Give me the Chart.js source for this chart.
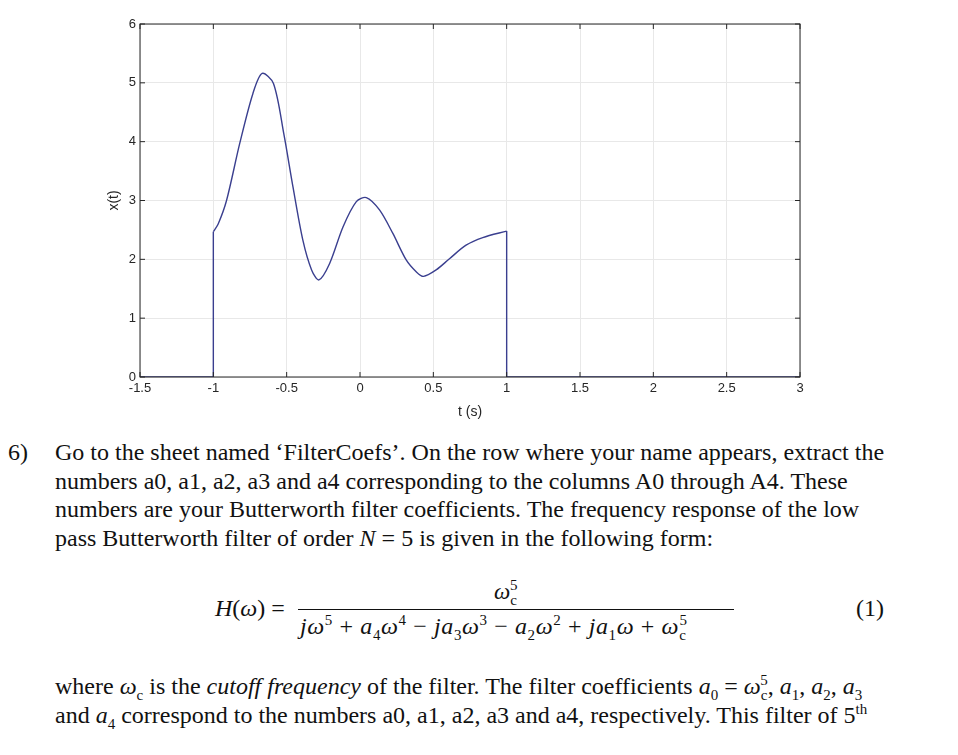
<!DOCTYPE html>
<html><head><meta charset="utf-8">
<script src="https://cdn.jsdelivr.net/npm/chart.js@4/dist/chart.umd.min.js"></script>
<style>
body{margin:0;background:#fff;width:958px;height:755px;overflow:hidden;position:relative}
#wrap{position:absolute;left:0;top:0;width:958px;height:425px}
.t{position:absolute;font-family:"Liberation Serif",serif;font-size:24px;color:#111;line-height:28.5px;white-space:nowrap}
i{font-style:italic}
sub,sup{line-height:0;font-size:15px}
</style></head><body>
<div id="wrap"><canvas id="c" width="958" height="425"></canvas></div>
<div class="t" style="left:8px;top:438px">6)</div>
<div class="t" style="left:55px;top:438px">Go to the sheet named ‘FilterCoefs’. On the row where your name appears, extract the<br>numbers a0, a1, a2, a3 and a4 corresponding to the columns A0 through A4. These<br>numbers are your Butterworth filter coefficients. The frequency response of the low<br>pass Butterworth filter of order <i>N</i> = 5 is given in the following form:</div>
<div class="t" style="left:215px;top:594px"><i>H</i>(<i>ω</i>) =</div>
<div class="t" style="left:494px;top:578px;font-size:23px"><i>ω</i><sub>c</sub><sup style="margin-left:-7px">5</sup></div>
<div style="position:absolute;left:298px;top:609px;width:436px;border-top:1.3px solid #111"></div>
<div class="t" style="left:300px;top:612px;font-size:24px;letter-spacing:0.6px"><i>jω</i><sup>5</sup> + <i>a</i><sub>4</sub><i>ω</i><sup>4</sup> − <i>ja</i><sub>3</sub><i>ω</i><sup>3</sup> − <i>a</i><sub>2</sub><i>ω</i><sup>2</sup> + <i>ja</i><sub>1</sub><i>ω</i> + <i>ω</i><sub>c</sub><sup style="margin-left:-7px">5</sup></div>
<div class="t" style="left:856px;top:594px">(1)</div>
<div class="t" style="left:55px;top:672px">where <i>ω</i><sub>c</sub> is the <i>cutoff frequency</i> of the filter. The filter coefficients <i>a</i><sub>0</sub> = <i>ω</i><sub>c</sub><sup style="margin-left:-7px">5</sup>, <i>a</i><sub>1</sub>, <i>a</i><sub>2</sub>, <i>a</i><sub>3</sub><br>and <i>a</i><sub>4</sub> correspond to the numbers a0, a1, a2, a3 and a4, respectively. This filter of 5<sup>th</sup></div>
<script>
const tVals=[-1,-0.967,-0.91,-0.82,-0.73,-0.667,-0.59,-0.52,-0.457,-0.39,-0.33,-0.28,-0.207,-0.116,-0.025,0.043,0.133,0.224,0.315,0.383,0.433,0.519,0.61,0.723,0.837,1];
const xVals=[2.47,2.6,3.0,3.97,4.82,5.16,4.99,4.14,3.23,2.33,1.82,1.65,1.93,2.55,2.98,3.05,2.84,2.44,1.99,1.79,1.71,1.82,2.01,2.24,2.37,2.48];
const edgeT=[-1.5,-1,-1,null,1,1,3];
const edgeX=[0,0,2.47,null,2.48,0,0];
const xTicks=[-1.5,-1,-0.5,0,0.5,1,1.5,2,2.5,3];
const yTicks=[0,1,2,3,4,5,6];
const box={id:'box',afterDraw(c){const a=c.chartArea,x=c.ctx;x.save();x.strokeStyle='#262626';x.lineWidth=1;x.strokeRect(a.left,a.top,a.right-a.left,a.bottom-a.top);
x.beginPath();for(const v of xTicks){const p=c.scales.x.getPixelForValue(v);x.moveTo(p,a.bottom);x.lineTo(p,a.bottom-5);x.moveTo(p,a.top);x.lineTo(p,a.top+5);}
for(const v of yTicks){const p=c.scales.y.getPixelForValue(v);x.moveTo(a.left,p);x.lineTo(a.left+5,p);x.moveTo(a.right,p);x.lineTo(a.right-5,p);}x.stroke();x.restore();}};
const col='#3a3f8f';
new Chart(document.getElementById('c'),{type:'line',
data:{datasets:[
{data:tVals.map((t,i)=>({x:t,y:xVals[i]})),borderColor:col,borderWidth:1.4,pointRadius:0,tension:0.3},
{data:edgeT.map((t,i)=>({x:t,y:edgeX[i]})),borderColor:col,borderWidth:1.4,pointRadius:0,tension:0,spanGaps:false}]},
options:{responsive:false,animation:false,plugins:{legend:{display:false},tooltip:{enabled:false}},
layout:{padding:{top:24,right:158,left:106,bottom:0}},
scales:{
x:{type:'linear',min:-1.5,max:3,afterBuildTicks(s){s.ticks=xTicks.map(v=>({value:v}))},afterFit(s){s.height=48},
grid:{color:'#e8e8e8',drawTicks:false},border:{display:false},
ticks:{color:'#262626',font:{family:'Liberation Sans',size:13},padding:4,callback:v=>String(v)},
title:{display:true,text:'t (s)',color:'#262626',font:{family:'Liberation Sans',size:14},padding:{top:2}}},
y:{min:0,max:6,afterBuildTicks(s){s.ticks=yTicks.map(v=>({value:v}))},afterFit(s){s.width=34},
grid:{color:'#e8e8e8',drawTicks:false},border:{display:false},
ticks:{color:'#262626',font:{family:'Liberation Sans',size:13},padding:4,callback:v=>String(v)},
title:{display:true,text:'x(t)',color:'#262626',font:{family:'Liberation Sans',size:14},padding:{bottom:0,top:0}}}}},
plugins:[box]});
</script></body></html>
